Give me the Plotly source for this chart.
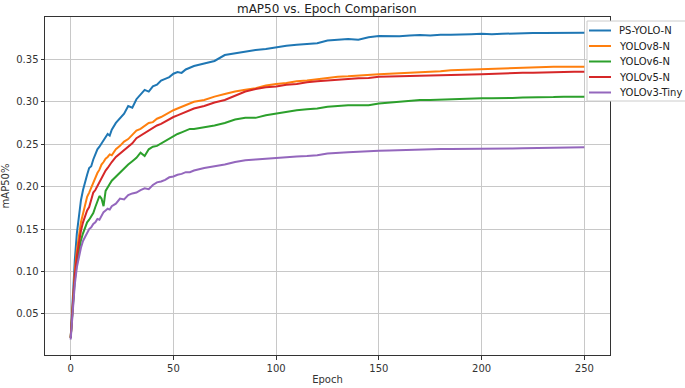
import plotly.graph_objects as go

epochs = list(range(0, 21)) + list(range(22, 61, 2)) + list(range(65, 251, 5))

ps_yolo_n = [0.022, 0.075, 0.113, 0.145, 0.168, 0.184, 0.196, 0.207, 0.214, 0.222, 0.224, 0.232, 0.238, 0.244, 0.247, 0.251, 0.255, 0.259, 0.262, 0.260, 0.267,
             0.275, 0.281, 0.286, 0.295, 0.293, 0.303, 0.309, 0.314, 0.312, 0.318, 0.320, 0.325, 0.327, 0.329, 0.333, 0.335, 0.334, 0.338, 0.340, 0.342,
             0.345, 0.348, 0.355, 0.357, 0.359, 0.361, 0.362, 0.364, 0.366, 0.367, 0.368, 0.369, 0.372, 0.373, 0.374, 0.373, 0.376, 0.3775, 0.3775, 0.377,
             0.378, 0.3785, 0.378, 0.379, 0.379, 0.379, 0.3795, 0.380, 0.3795, 0.380, 0.3805, 0.3805, 0.381, 0.381, 0.381, 0.3812, 0.3812, 0.3813]

yolov8_n = [0.022, 0.065, 0.100, 0.125, 0.145, 0.158, 0.168, 0.178, 0.188, 0.193, 0.199, 0.206, 0.211, 0.216, 0.220, 0.226, 0.229, 0.233, 0.235, 0.238, 0.237,
            0.244, 0.248, 0.253, 0.256, 0.261, 0.266, 0.268, 0.271, 0.275, 0.276, 0.280, 0.282, 0.285, 0.287, 0.290, 0.292, 0.294, 0.296, 0.298, 0.300,
            0.302, 0.306, 0.309, 0.312, 0.314, 0.316, 0.319, 0.321, 0.322, 0.324, 0.325, 0.3265, 0.328, 0.3295, 0.330, 0.331, 0.3315, 0.3325, 0.333, 0.3335,
            0.334, 0.3347, 0.3355, 0.336, 0.337, 0.3375, 0.338, 0.3385, 0.339, 0.3395, 0.340, 0.3405, 0.341, 0.3413, 0.3413, 0.3413, 0.3413, 0.3413]

yolov6_n = [0.022, 0.060, 0.090, 0.110, 0.125, 0.137, 0.145, 0.152, 0.158, 0.161, 0.165, 0.169, 0.176, 0.184, 0.189, 0.186, 0.177, 0.195, 0.200, 0.203, 0.207,
            0.212, 0.217, 0.221, 0.226, 0.230, 0.234, 0.240, 0.236, 0.244, 0.247, 0.248, 0.251, 0.254, 0.257, 0.259, 0.262, 0.264, 0.266, 0.268, 0.268,
            0.270, 0.272, 0.275, 0.279, 0.281, 0.281, 0.284, 0.286, 0.288, 0.290, 0.291, 0.292, 0.294, 0.295, 0.296, 0.2958, 0.296, 0.298, 0.299, 0.300,
            0.301, 0.302, 0.302, 0.3025, 0.303, 0.303, 0.3035, 0.304, 0.304, 0.304, 0.3045, 0.305, 0.305, 0.3055, 0.3055, 0.306, 0.306, 0.306]

yolov5_n = [0.022, 0.062, 0.095, 0.118, 0.135, 0.148, 0.158, 0.165, 0.172, 0.176, 0.186, 0.193, 0.196, 0.201, 0.205, 0.210, 0.215, 0.219, 0.222, 0.226, 0.229,
            0.235, 0.239, 0.244, 0.247, 0.251, 0.257, 0.260, 0.263, 0.267, 0.269, 0.272, 0.274, 0.277, 0.280, 0.282, 0.284, 0.286, 0.288, 0.290, 0.292,
            0.295, 0.299, 0.302, 0.307, 0.312, 0.315, 0.317, 0.318, 0.320, 0.321, 0.323, 0.324, 0.325, 0.326, 0.327, 0.3276, 0.328, 0.3295, 0.3298, 0.330,
            0.3303, 0.3305, 0.331, 0.3312, 0.3315, 0.3315, 0.332, 0.3325, 0.333, 0.3333, 0.3337, 0.334, 0.334, 0.3345, 0.335, 0.335, 0.3354, 0.3354]

yolov3_tiny = [0.020, 0.055, 0.085, 0.105, 0.118, 0.128, 0.136, 0.141, 0.145, 0.150, 0.152, 0.156, 0.158, 0.162, 0.161, 0.166, 0.170, 0.172, 0.174, 0.173, 0.177,
               0.180, 0.186, 0.185, 0.190, 0.192, 0.193, 0.196, 0.198, 0.197, 0.202, 0.205, 0.206, 0.208, 0.211, 0.212, 0.214, 0.215, 0.217, 0.217, 0.219,
               0.222, 0.224, 0.226, 0.229, 0.231, 0.232, 0.233, 0.234, 0.2345, 0.2355, 0.236, 0.237, 0.239, 0.240, 0.2405, 0.241, 0.242, 0.2424, 0.2425, 0.243,
               0.2433, 0.244, 0.244, 0.2442, 0.2443, 0.2443, 0.2443, 0.2445, 0.2447, 0.245, 0.245, 0.2452, 0.2455, 0.2457, 0.246, 0.246, 0.2462, 0.2463]

series_names = ["PS-YOLO-N", "YOLOv8-N", "YOLOv6-N", "YOLOv5-N", "YOLOv3-Tiny"]
series_values = [ps_yolo_n, yolov8_n, yolov6_n, yolov5_n, yolov3_tiny]
colors = ["#1f77b4", "#ff7f0e", "#2ca02c", "#d62728", "#9467bd"]

y_ticks = [0.05, 0.10, 0.15, 0.20, 0.25, 0.30, 0.35]
x_ticks = [0, 50, 100, 150, 200, 250]

W, H = 685, 388
ML, MR, MT, MB = 45, 75, 17, 33
PW, PH = W - ML - MR, H - MT - MB


def px_x(px):
    return (px - ML) / PW


def px_y(py):
    return 1 - (py - MT) / PH


fig = go.Figure()
for name, vals, col in zip(series_names, series_values, colors):
    fig.add_trace(go.Scatter(x=epochs, y=vals, mode="lines", name=name,
                             line=dict(color=col, width=2), showlegend=False))

font_family = "DejaVu Sans"
axis_common = dict(showgrid=True, gridcolor="#c8c8c8", gridwidth=1,
                   showline=True, linecolor="#333333", linewidth=1, mirror=True,
                   ticks="outside", ticklen=3.5, tickcolor="#333333",
                   tickfont=dict(size=10, color="#333333", family=font_family),
                   zeroline=False)

# Legend (box, line samples, labels) placed like the matplotlib legend
shapes = [dict(type="rect", xref="paper", yref="paper",
               x0=px_x(587), x1=px_x(720), y0=px_y(101), y1=px_y(21),
               fillcolor="white", line=dict(color="#cccccc", width=1), layer="above")]
annotations = []
for i, (name, col) in enumerate(zip(series_names, colors)):
    yc = px_y(30.5 + 15.5 * i)
    shapes.append(dict(type="line", xref="paper", yref="paper",
                       x0=px_x(589), x1=px_x(611), y0=yc, y1=yc,
                       line=dict(color=col, width=2), layer="above"))
    annotations.append(dict(text=name, xref="paper", yref="paper",
                            x=px_x(617), y=yc, xanchor="left", yanchor="middle",
                            showarrow=False,
                            font=dict(size=10, color="#222222", family=font_family)))

fig.update_layout(
    width=W, height=H,
    margin=dict(l=ML, r=MR, t=MT, b=MB, autoexpand=False),
    paper_bgcolor="white", plot_bgcolor="white",
    font=dict(family=font_family, color="#333333"),
    title=dict(text="mAP50 vs. Epoch Comparison", x=0.477, xanchor="center",
               y=0.978, yanchor="middle", yref="container",
               font=dict(size=12, color="#222222", family=font_family)),
    xaxis=dict(range=[-12.5, 262.5], tickvals=x_ticks,
               title=dict(text="Epoch", font=dict(size=10, family=font_family), standoff=3),
               **axis_common),
    yaxis=dict(range=[0.0017, 0.3998], tickvals=y_ticks, tickformat=".2f",
               title=dict(text="mAP50%", font=dict(size=10, family=font_family), standoff=6),
               **axis_common),
    shapes=shapes,
    annotations=annotations,
    showlegend=False,
)

fig.write_html("out.html", config={"displayModeBar": False},
               post_script="document.body.style.margin='0';")
